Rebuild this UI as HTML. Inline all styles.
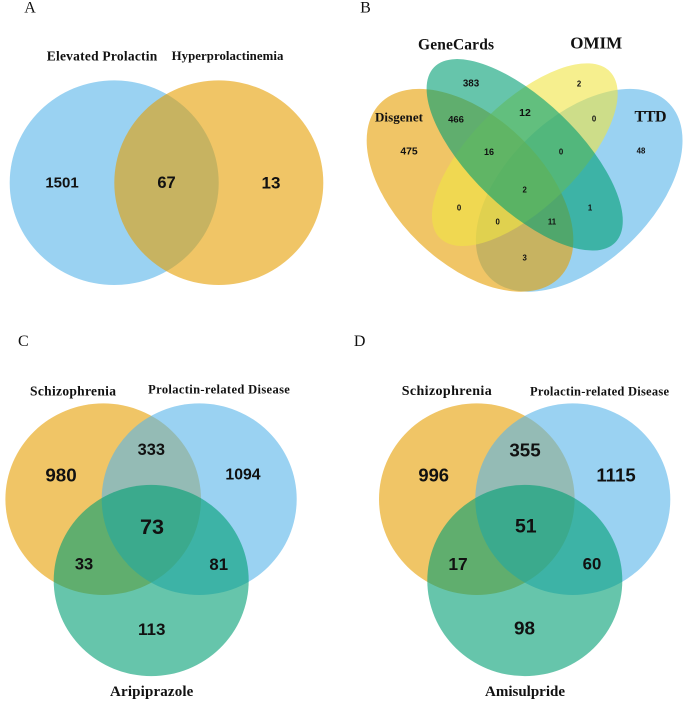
<!DOCTYPE html>
<html lang="en">
<head>
<meta charset="utf-8">
<title>Venn diagrams</title>
<style>
html,body{margin:0;padding:0;background:#fff;width:685px;height:722px;overflow:hidden}
svg{display:block;filter:blur(.3px)}
.letter{font:400 16px "Liberation Serif",serif;fill:#111;text-anchor:middle;dominant-baseline:central}
.set{font-family:"Liberation Serif",serif;font-weight:700;fill:#111;text-anchor:middle;dominant-baseline:central}
.n{font-family:"Liberation Sans",sans-serif;font-weight:700;fill:#111;text-anchor:middle;dominant-baseline:central}
.or{fill:#E69F00;fill-opacity:.6}
.bl{fill:#56B4E9;fill-opacity:.6}
.gr{fill:#009E73;fill-opacity:.6}
.ye{fill:#F0E442;fill-opacity:.6}
</style>
</head>
<body>
<svg id="figure" xmlns="http://www.w3.org/2000/svg" width="685" height="722" viewBox="0 0 685 722">
  <rect width="685" height="722" fill="#fff"/>

  <g id="panel-a">
    <text class="letter" x="30" y="8">A</text>
    <ellipse class="bl" cx="114.2" cy="182.7" rx="104.5" ry="102.3"/>
    <ellipse class="or" cx="218.8" cy="182.7" rx="104.5" ry="102.3"/>
    <text class="set" x="102" y="56" font-size="13.5" textLength="110.6">Elevated Prolactin</text>
    <text class="set" x="227.5" y="56" font-size="12.8" textLength="111.7">Hyperprolactinemia</text>
    <text class="n" x="62" y="183" font-size="15"></text>
    <text class="n" x="166.5" y="183" font-size="16.5"></text>
    <text class="n" x="271" y="183" font-size="17"></text>
  </g>

  <g id="panel-b">
    <text class="letter" x="365.5" y="8">B</text>
    <ellipse class="bl" cx="579.2" cy="190.3" rx="125" ry="73" transform="rotate(-43.9 579.2 190.3)"/>
    <ellipse class="or" cx="470" cy="190.3" rx="125" ry="73" transform="rotate(43.9 470 190.3)"/>
    <ellipse class="ye" cx="524.8" cy="154.7" rx="119" ry="53" transform="rotate(-44.3 524.8 154.7)"/>
    <ellipse class="gr" cx="524.7" cy="154.8" rx="126" ry="54" transform="rotate(44 524.7 154.8)"/>
    <text class="set" x="456" y="45" font-size="15.5" textLength="76">GeneCards</text>
    <text class="set" x="596.2" y="43" font-size="17" textLength="52">OMIM</text>
    <text class="set" x="399" y="117" font-size="13" textLength="48">Disgenet</text>
    <text class="set" x="650.5" y="117" font-size="16" textLength="32">TTD</text>
    <text class="n" x="471" y="84" font-size="9.8"></text>
    <text class="n" x="579" y="84" font-size="7.8"></text>
    <text class="n" x="456" y="120" font-size="9.5"></text>
    <text class="n" x="525" y="113" font-size="10.5"></text>
    <text class="n" x="594" y="119" font-size="7.8"></text>
    <text class="n" x="409" y="152" font-size="10.4"></text>
    <text class="n" x="489" y="152" font-size="9"></text>
    <text class="n" x="561" y="152" font-size="7.8"></text>
    <text class="n" x="641" y="151" font-size="7.8"></text>
    <text class="n" x="524.7" y="190" font-size="7.8"></text>
    <text class="n" x="459" y="208" font-size="7.8"></text>
    <text class="n" x="590" y="208" font-size="7.8"></text>
    <text class="n" x="497.7" y="222" font-size="7.8"></text>
    <text class="n" x="552" y="222" font-size="7.8"></text>
    <text class="n" x="524.7" y="258" font-size="7.8"></text>
  </g>

  <g id="panel-c">
    <text class="letter" x="23.3" y="341.5">C</text>
    <ellipse class="or" cx="103.2" cy="499.2" rx="97.8" ry="95.8"/>
    <ellipse class="bl" cx="199.2" cy="499.2" rx="97.5" ry="95.8"/>
    <ellipse class="gr" cx="151.2" cy="580.5" rx="97.5" ry="95.6"/>
    <text class="set" x="73" y="391" font-size="13.5" textLength="86">Schizophrenia</text>
    <text class="set" x="219" y="389.3" font-size="12.5" textLength="141.7">Prolactin-related Disease</text>
    <text class="set" x="151.7" y="692" font-size="15" textLength="83.3">Aripiprazole</text>
    <text class="n" x="61" y="475" font-size="18.8"></text>
    <text class="n" x="151.3" y="450" font-size="16.4"></text>
    <text class="n" x="243" y="475" font-size="15.8"></text>
    <text class="n" x="152" y="526.7" font-size="21.6"></text>
    <text class="n" x="84" y="564.3" font-size="16.5"></text>
    <text class="n" x="218.7" y="564.3" font-size="16.8"></text>
    <text class="n" x="151.7" y="629.3" font-size="17"></text>
  </g>

  <g id="panel-d">
    <text class="letter" x="359.7" y="341.5">D</text>
    <ellipse class="or" cx="476.8" cy="499.2" rx="97.8" ry="95.8"/>
    <ellipse class="bl" cx="572.8" cy="499.2" rx="97.5" ry="95.8"/>
    <ellipse class="gr" cx="524.8" cy="580.5" rx="97.5" ry="95.6"/>
    <text class="set" x="446.7" y="391.7" font-size="14" textLength="90">Schizophrenia</text>
    <text class="set" x="599.5" y="391.5" font-size="12.5" textLength="139">Prolactin-related Disease</text>
    <text class="set" x="525" y="692" font-size="15" textLength="80">Amisulpride</text>
    <text class="n" x="433.7" y="475" font-size="18.4"></text>
    <text class="n" x="525" y="450" font-size="18.8"></text>
    <text class="n" x="616" y="475" font-size="18.6"></text>
    <text class="n" x="525.8" y="526.5" font-size="19.5"></text>
    <text class="n" x="458" y="564" font-size="17.4"></text>
    <text class="n" x="592" y="564" font-size="16.8"></text>
    <text class="n" x="524.5" y="629" font-size="18.9"></text>
  </g>
</svg>
<script>
// Region counts, listed in the same order as the count labels in each panel.
const panelACounts = [1501, 67, 13];
const panelBCounts = [383, 2, 466, 12, 0, 475, 16, 0, 48, 2, 0, 1, 0, 11, 3];
const panelCCounts = [980, 333, 1094, 73, 33, 81, 113];
const panelDCounts = [996, 355, 1115, 51, 17, 60, 98];

function fillCounts(panelId, counts) {
  const labels = document.querySelectorAll('#' + panelId + ' text.n');
  counts.forEach(function (value, i) {
    if (labels[i]) labels[i].textContent = String(value);
  });
}
fillCounts('panel-a', panelACounts);
fillCounts('panel-b', panelBCounts);
fillCounts('panel-c', panelCCounts);
fillCounts('panel-d', panelDCounts);
</script>
</body>
</html>
